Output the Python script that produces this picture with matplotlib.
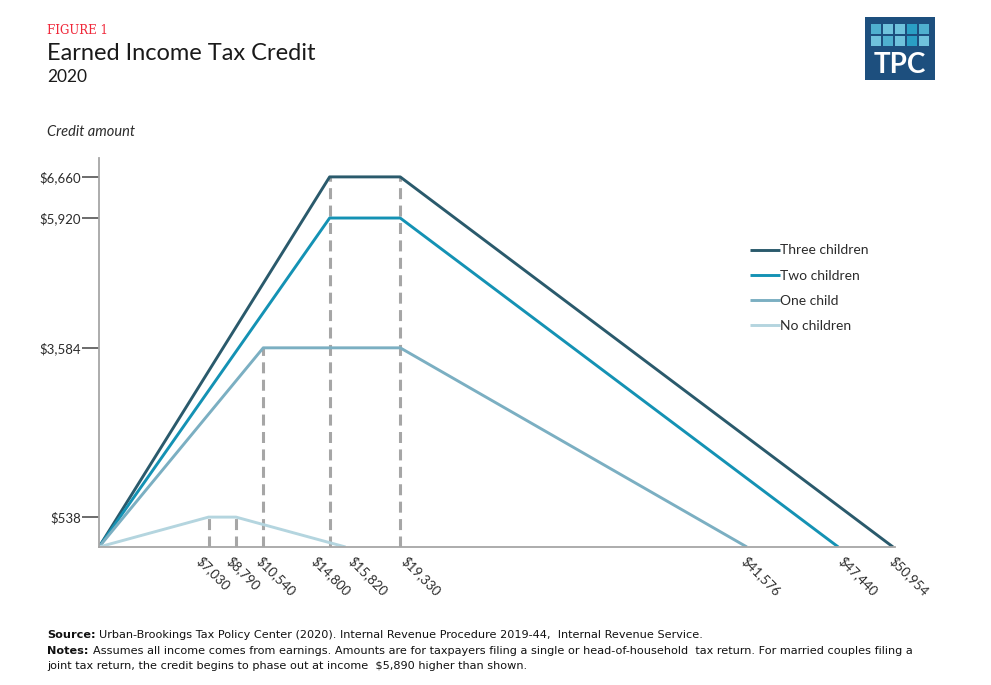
import matplotlib.pyplot as plt
from matplotlib.patches import Rectangle
from matplotlib.transforms import ScaledTranslation

# EITC 2020 schedule (single / head of household)
series_names = ["Three children", "Two children", "One child", "No children"]
income_pts = [
    [0, 14800, 19330, 50954],
    [0, 14800, 19330, 47440],
    [0, 10540, 19330, 41576],
    [0, 7030, 8790, 15820],
]
credit_pts = [
    [0, 6660, 6660, 0],
    [0, 5920, 5920, 0],
    [0, 3584, 3584, 0],
    [0, 538, 538, 0],
]
line_colors = ["#2a5a6c", "#1492b4", "#7bafc2", "#b4d5df"]

# dashed guide lines: income, credit height
guide_x = [7030, 8790, 10540, 14800, 19330]
guide_y = [538, 538, 3584, 6660, 6660]

x_ticks = [7030, 8790, 10540, 14800, 15820, 19330, 41576, 47440, 50954]
y_ticks = [538, 3584, 5920, 6660]
# small nudges (px) so labels sit like the original
x_nudge = [-5, -3, 0, -11, 10, 8, 1, 7, 3]

txt = "#2b2b2b"
grey = "#a6a6a6"
fw, fh = 991, 685

fig = plt.figure(figsize=(9.91, 6.85), dpi=100)
ax = fig.add_axes([99/fw, 1 - 547/fh, 796/fw, 389/fh])

ax.vlines(guide_x, 0, guide_y, colors=grey, linestyles=(0, (3.6, 2.1)), lw=2.2, zorder=1)
for xs, ys, c, n in zip(income_pts, credit_pts, line_colors, series_names):
    ax.plot(xs, ys, color=c, lw=2.1, label=n, zorder=2, solid_capstyle="butt")

ax.set_xlim(0, 51080)
ax.set_ylim(0, 7000)

for s in ["top", "right"]:
    ax.spines[s].set_visible(False)
for s in ["left", "bottom"]:
    ax.spines[s].set_color(grey)
    ax.spines[s].set_linewidth(1.3)

ax.set_xticks(x_ticks)
ax.set_xticklabels([f"${v:,}" for v in x_ticks], rotation=-45, ha="left", va="top",
                   rotation_mode="anchor", fontsize=9.5, color=txt, family="Lato")
ax.tick_params(axis="x", length=0, pad=5)
for lab, dx in zip(ax.get_xticklabels(), x_nudge):
    lab.set_transform(lab.get_transform() + ScaledTranslation(dx / 100, 0, fig.dpi_scale_trans))
ax.set_yticks(y_ticks)
ax.set_yticklabels([f"${v:,}" for v in y_ticks], fontsize=9.5, color=txt, family="Lato")
ax.tick_params(axis="y", length=12, width=1.1, color="#444444", pad=1)

leg = ax.legend(loc="upper left", bbox_to_anchor=(737/fw, 1 - 232/fh),
                bbox_transform=fig.transFigure, frameon=False, handlelength=2.2,
                handletextpad=0.0, labelspacing=0.95, prop={"family": "Lato", "size": 10})
for t in leg.get_texts():
    t.set_color(txt)

# header
fig.text(47/fw, 1 - 30/fh, "FIGURE 1", color="#f0283a", fontsize=8.5,
         family="DejaVu Serif", va="center")
fig.text(47/fw, 1 - 54/fh, "Earned Income Tax Credit", color="#1a1a1a", fontsize=17,
         family="Lato", va="center")
fig.text(47/fw, 1 - 77/fh, "2020", color="#1a1a1a", fontsize=12.5,
         family="Lato", va="center")
fig.text(47/fw, 1 - 132/fh, "Credit amount", color=txt, fontsize=10.5,
         family="Lato", style="italic", va="center")

# TPC logo
fig.patches.append(Rectangle((865/fw, 1 - 80/fh), 70/fw, 63/fh, transform=fig.transFigure,
                             facecolor="#1d4f7e", edgecolor="none"))
cell_cols = [["#4fb0cf", "#6fc2dc", "#6fc2dc", "#2a9fc4", "#4fb0cf"],
             ["#6fc2dc", "#4fb0cf", "#6fc2dc", "#2a9fc4", "#6fc2dc"]]
for r in range(2):
    for c in range(5):
        x0 = 871 + c * 12
        y0 = 24 + r * 12
        fig.patches.append(Rectangle((x0/fw, 1 - (y0 + 10)/fh), 10/fw, 10/fh,
                                     transform=fig.transFigure,
                                     facecolor=cell_cols[r][c], edgecolor="none"))
fig.text(900/fw, 1 - 65/fh, "TPC", color="white", fontsize=20, fontweight="bold",
         family="Lato", ha="center", va="center")

# footer
foot = "Liberation Sans Narrow"
fs = 8.1
fig.text(47/fw, 1 - 635/fh, "Source:", fontsize=fs, fontweight="bold", family=foot,
         color="#111111", va="center")
fig.text(99/fw, 1 - 635/fh,
         "Urban-Brookings Tax Policy Center (2020). Internal Revenue Procedure 2019-44,  Internal Revenue Service.",
         fontsize=fs, family=foot, color="#111111", va="center")
fig.text(47/fw, 1 - 651/fh, "Notes:", fontsize=fs, fontweight="bold", family=foot,
         color="#111111", va="center")
fig.text(93/fw, 1 - 651/fh,
         "Assumes all income comes from earnings. Amounts are for taxpayers filing a single or head-of-household  tax return. For married couples filing a",
         fontsize=fs, family=foot, color="#111111", va="center")
fig.text(47/fw, 1 - 666/fh,
         "joint tax return, the credit begins to phase out at income  $5,890 higher than shown.",
         fontsize=fs, family=foot, color="#111111", va="center")

fig.savefig("out.png", dpi=100)
